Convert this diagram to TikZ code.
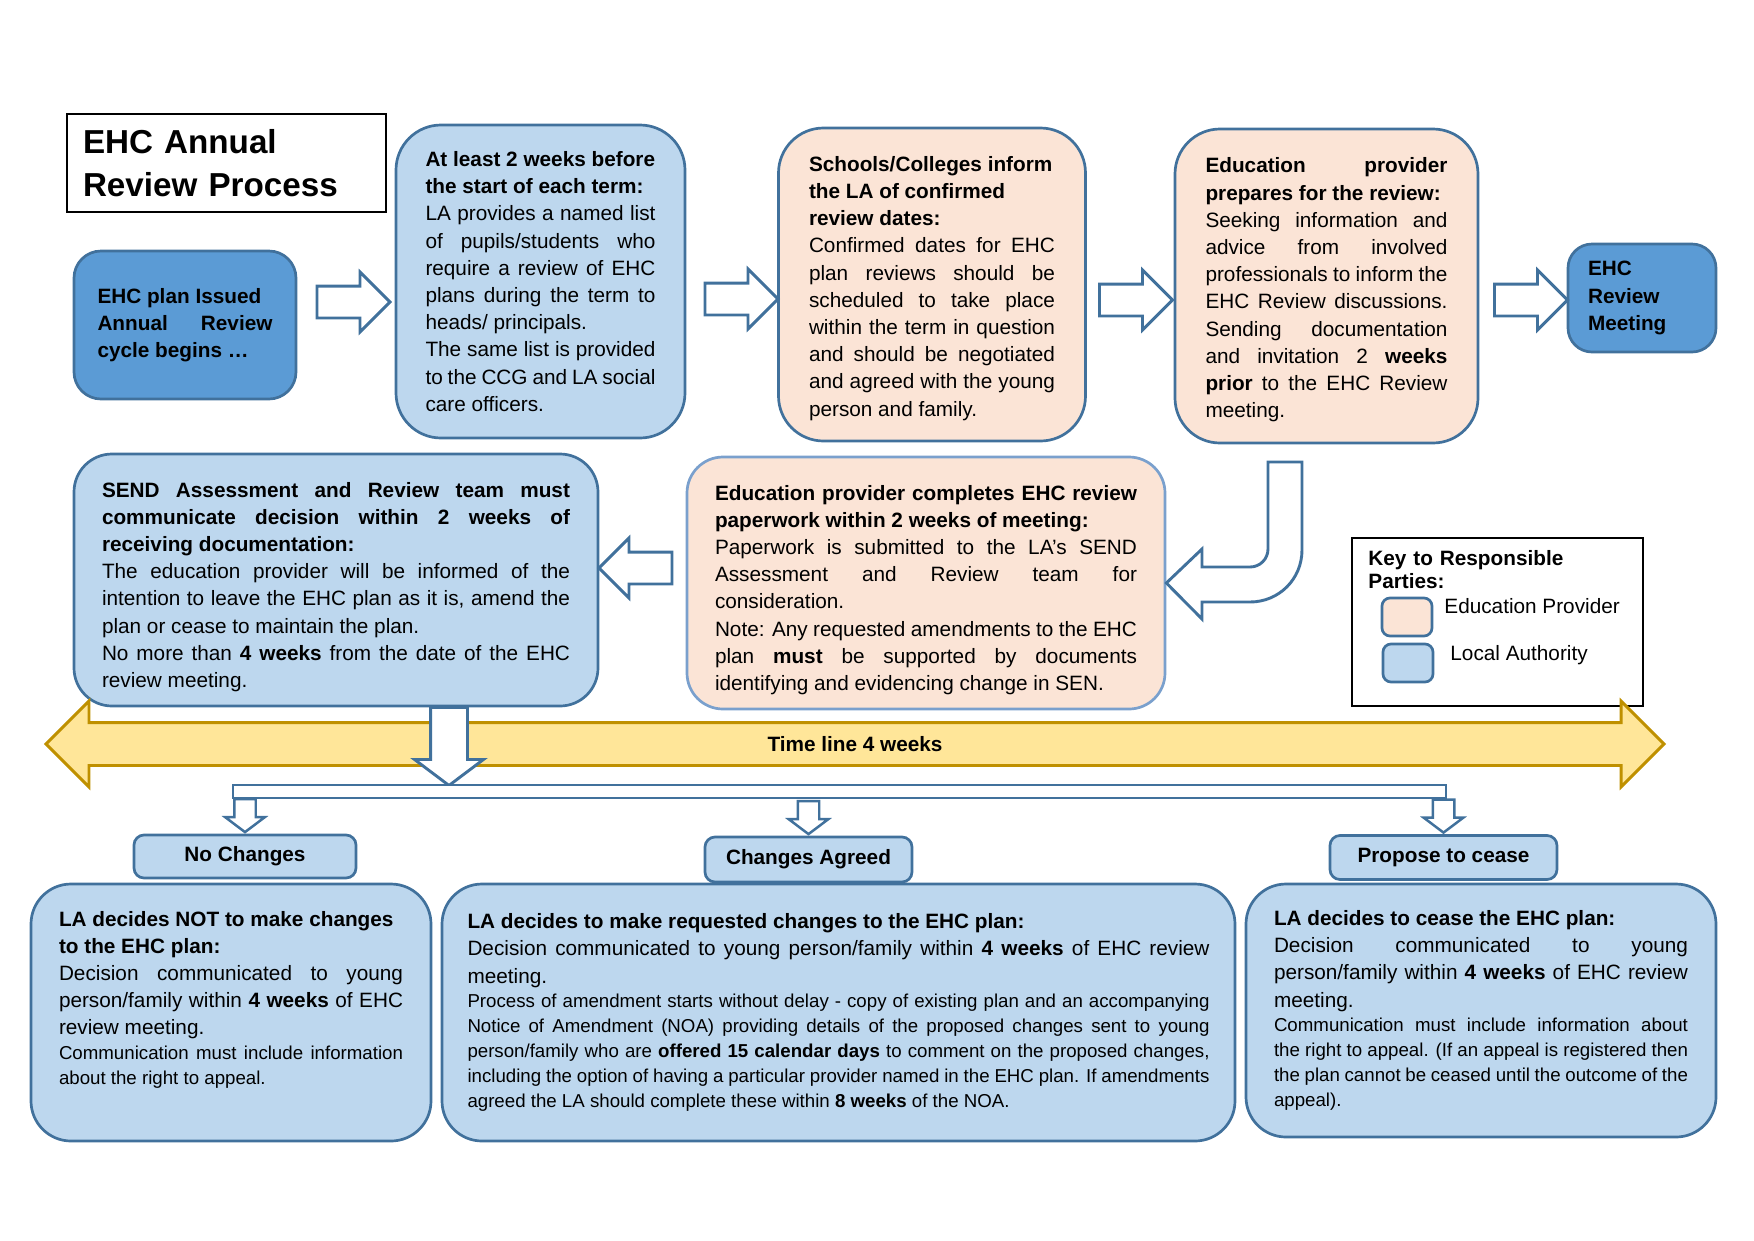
\documentclass[tikz,border=0pt]{standalone}
\usepackage{fontspec}
\setmainfont{Liberation Sans}
\usepackage{tikz}
\usetikzlibrary{shapes.arrows}

% one pixel of the A4 page at 150 dpi
\newlength{\px}
\setlength{\px}{0.16933mm}

\definecolor{laFill}{RGB}{189,215,238}
\definecolor{epFill}{RGB}{251,228,214}
\definecolor{startFill}{RGB}{91,155,213}
\definecolor{edgeBlue}{RGB}{65,113,156}
\definecolor{edgeLight}{RGB}{122,160,205}
\definecolor{timeFill}{RGB}{255,230,153}
\definecolor{timeEdge}{RGB}{191,144,0}

\newcommand{\boxtext}{\fontsize{10}{13.1}\selectfont}
\newcommand{\smalltext}{\fontsize{9}{12}\selectfont}
\newcommand{\labeltext}{\fontsize{10}{12}\selectfont\bfseries}
% invisible strut that pushes a text block a little lower in its box
\newcommand{\topgap}[1]{\rule{0pt}{#1}}

\hyphenpenalty=10000
\exhyphenpenalty=10000
\hbadness=10000

\tikzstyle{authority}=[rectangle,
rounded corners=40\px,
draw=edgeBlue,
line width=1.3pt,
fill=laFill,
inner sep=0pt,
align=justify,
font=\boxtext]
\tikzstyle{provider}=[authority,
fill=epFill]
\tikzstyle{startbox}=[authority,
rounded corners=27\px,
fill=startFill]
\tikzstyle{outcomelabel}=[authority,
rounded corners=10\px,
align=center,
font=\labeltext]
\tikzstyle{flowarrow}=[single arrow,
draw=edgeBlue,
line width=1.4pt,
fill=white,
inner xsep=0pt,
inner ysep=14.5\px,
minimum height=73\px,
single arrow head extend=14\px]
\tikzstyle{brancharrow}=[flowarrow,
rotate=-90,
line width=1.2pt,
inner ysep=9.5\px,
minimum height=33\px,
single arrow head extend=9\px,
single arrow tip angle=106]
\tikzstyle{blockline}=[draw=edgeBlue,
line width=1.4pt,
fill=white]
\tikzstyle{keyswatch}=[rectangle,
rounded corners=8\px,
draw=edgeBlue,
line width=1.3pt,
minimum width=50\px,
minimum height=38\px]

\begin{document}
\begin{tikzpicture}[x=0.16933mm,y=-0.16933mm]
	\useasboundingbox (0,0) rectangle (1754,1240);

	% Title
	\node (title) [draw=black, line width=1pt, minimum width=319\px, minimum height=98\px,
	text width=287\px, align=left, inner sep=0pt,
	font=\fontsize{16}{21}\selectfont\bfseries] at (226.5,163) {EHC Annual\\Review Process};

	% First row: start of the cycle up to the review meeting
	\node (plan_issued) [startbox, minimum width=222\px, minimum height=148\px,
	text width=175\px, font=\boxtext\bfseries] at (185,325)
	{EHC plan Issued\newline Annual Review\linebreak cycle begins …};
	\node (la_list) [authority, rounded corners=45\px, minimum width=289\px, minimum height=313\px,
	text width=230\px] at (540.5,281.5)
	{\textbf{At least 2 weeks before\newline the start of each term:}\par
	LA provides a named list\linebreak of pupils/students who\linebreak require a review of EHC\linebreak
	plans during the term to\linebreak heads/ principals.\par
	The same list is provided\linebreak to the CCG and LA social\linebreak care officers.};
	\node (confirm) [provider, rounded corners=45\px, minimum width=307\px, minimum height=313\px,
	text width=246\px] at (932,284.5)
	{\topgap{11pt}\textbf{Schools/Colleges inform\newline the LA of confirmed\newline review dates:}\par
	Confirmed dates for EHC\linebreak plan reviews should be\linebreak scheduled to take place\linebreak
	within the term in question\linebreak and should be negotiated\linebreak
	and agreed with the young\linebreak person and family.};
	\node (prep) [provider, rounded corners=45\px, minimum width=303\px, minimum height=314\px,
	text width=242\px] at (1326.5,286)
	{\topgap{11pt}\textbf{Education provider\linebreak prepares for the review:}\par
	Seeking information and\linebreak advice from involved\linebreak professionals to inform the\linebreak
	EHC Review discussions.\linebreak Sending documentation\linebreak
	and invitation 2 \textbf{weeks}\linebreak \textbf{prior} to the EHC Review\linebreak meeting.};
	\node (meeting) [startbox, rounded corners=24\px, minimum width=148\px, minimum height=108\px,
	text width=108\px, align=left, font=\boxtext\bfseries] at (1642,298)
	{EHC\\Review\\Meeting};

	% Second row: paperwork goes back to the LA
	\node (send) [authority, rounded corners=38\px, minimum width=524\px, minimum height=252\px,
	text width=468\px] at (336,580)
	{\topgap{14pt}\textbf{SEND Assessment and Review team must\linebreak communicate decision within 2 weeks of\linebreak
	receiving documentation:}\par
	The education provider will be informed of the\linebreak
	intention to leave the EHC plan as it is, amend the\linebreak
	plan or cease to maintain the plan.\par
	No more than \textbf{4 weeks} from the date of the EHC\linebreak review meeting.};
	\node (complete) [provider, draw=edgeLight, rounded corners=36\px, minimum width=478\px,
	minimum height=252\px, text width=422\px] at (926,583)
	{\topgap{14pt}\textbf{Education provider completes EHC review\linebreak paperwork within 2 weeks of meeting:}\par
	Paperwork is submitted to the LA’s SEND\linebreak Assessment and Review team for\linebreak
	consideration.\par
	Note: Any requested amendments to the EHC\linebreak plan \textbf{must} be supported by documents\linebreak
	identifying and evidencing change in SEN.};

	% Key to the colours
	\node (key) [draw=black, line width=1.1pt, minimum width=291\px, minimum height=168\px]
	at (1497.5,622) {};
	\node (key_title) [anchor=base west, text width=210\px, align=left, inner sep=0pt,
	font=\fontsize{10}{11.5}\selectfont\bfseries] at (1368,565) {Key to Responsible Parties:};
	\node (key_ep) [keyswatch, fill=epFill] at (1407,617) {};
	\node (key_la) [keyswatch, fill=laFill] at (1408,663) {};
	\node (key_ep_text) [anchor=base west, inner sep=0pt, font=\fontsize{10}{12}\selectfont]
	at (1444,613) {Education Provider};
	\node (key_la_text) [anchor=base west, inner sep=0pt, font=\fontsize{10}{12}\selectfont]
	at (1450,660) {Local Authority};

	% Third row: the three possible decisions
	\node (no_change) [outcomelabel, minimum width=222\px, minimum height=43\px] at (245,856.5) {No Changes};
	\node (agreed) [outcomelabel, minimum width=207\px, minimum height=45\px] at (808.5,859.5) {Changes Agreed};
	\node (cease) [outcomelabel, minimum width=227\px, minimum height=44\px] at (1443.5,857.5) {Propose to cease};
	\node (dec_no) [authority, minimum width=400\px, minimum height=257\px, text width=344\px]
	at (231,1012.5)
	{\textbf{LA decides NOT to make changes\newline to the EHC plan:}\par
	Decision communicated to young\linebreak person/family within \textbf{4 weeks} of EHC\linebreak
	review meeting.\par
	{\smalltext Communication must include information\linebreak about the right to appeal.\par}
	\vspace{1pt}\mbox{}};
	\node (dec_change) [authority, minimum width=793\px, minimum height=257\px, text width=742\px]
	at (838.5,1012.5)
	{\textbf{LA decides to make requested changes to the EHC plan:}\par
	Decision communicated to young person/family within \textbf{4 weeks} of EHC review\linebreak
	meeting.\par
	{\smalltext Process of amendment starts without delay - copy of existing plan and an accompanying\linebreak
	Notice of Amendment (NOA) providing details of the proposed changes sent to young\linebreak
	person/family who are \textbf{offered 15 calendar days} to comment on the proposed changes,\linebreak
	including the option of having a particular provider named in the EHC plan. If amendments\linebreak
	agreed the LA should complete these within \textbf{8 weeks} of the NOA.\par}};
	\node (dec_cease) [authority, minimum width=470\px, minimum height=253\px, text width=414\px]
	at (1481,1010.5)
	{\textbf{LA decides to cease the EHC plan:}\par
	Decision communicated to young\linebreak person/family within \textbf{4 weeks} of EHC review\linebreak
	meeting.\par
	{\smalltext Communication must include information about\linebreak
	the right to appeal. (If an appeal is registered then\linebreak
	the plan cannot be ceased until the outcome of the\linebreak appeal).\par}};

	% Block arrows between the boxes
	\node (arr_a) [flowarrow] at (345.5,302) {};
	\node (arr_b) [flowarrow] at (733.5,299) {};
	\node (arr_c) [flowarrow] at (1128,300) {};
	\node (arr_d) [flowarrow] at (1523,300) {};
	\node (arr_e) [flowarrow, rotate=180] at (643.5,568) {};

	% The bent arrow from the review back to the paperwork
	\draw[blockline] (1268,462) -- (1268,549) .. controls (1268,559) and (1260,567) .. (1250,567)
	-- (1202,567) -- (1202,549) -- (complete.east) -- (1202,619) -- (1202,602) -- (1250,602)
	.. controls (1279,602) and (1302,579) .. (1302,550) -- (1302,462) -- cycle;

	% Time line across the page
	\node (timeline) [double arrow, draw=timeEdge, line width=1.4pt, fill=timeFill,
	inner xsep=0pt, inner ysep=13\px, text height=14\px, text depth=0pt,
	minimum height=1618\px, double arrow head extend=21.5\px, font=\labeltext]
	at (855,744) {Time line 4 weeks};

	% Decision goes down to the three branches
	\node (arr_drop) [flowarrow, rotate=-90, inner ysep=17\px, minimum height=78\px,
	single arrow head extend=16\px, single arrow tip angle=106, anchor=tail] at (449,706) {};
	\draw[blockline] (233,785) rectangle (1446,798);
	\node (to_no) [brancharrow, anchor=tip] at (no_change.north) {};
	\node (to_agreed) [brancharrow, anchor=tip] at (agreed.north) {};
	\node (to_cease) [brancharrow, anchor=tip] at (cease.north) {};
\end{tikzpicture}
\end{document}
